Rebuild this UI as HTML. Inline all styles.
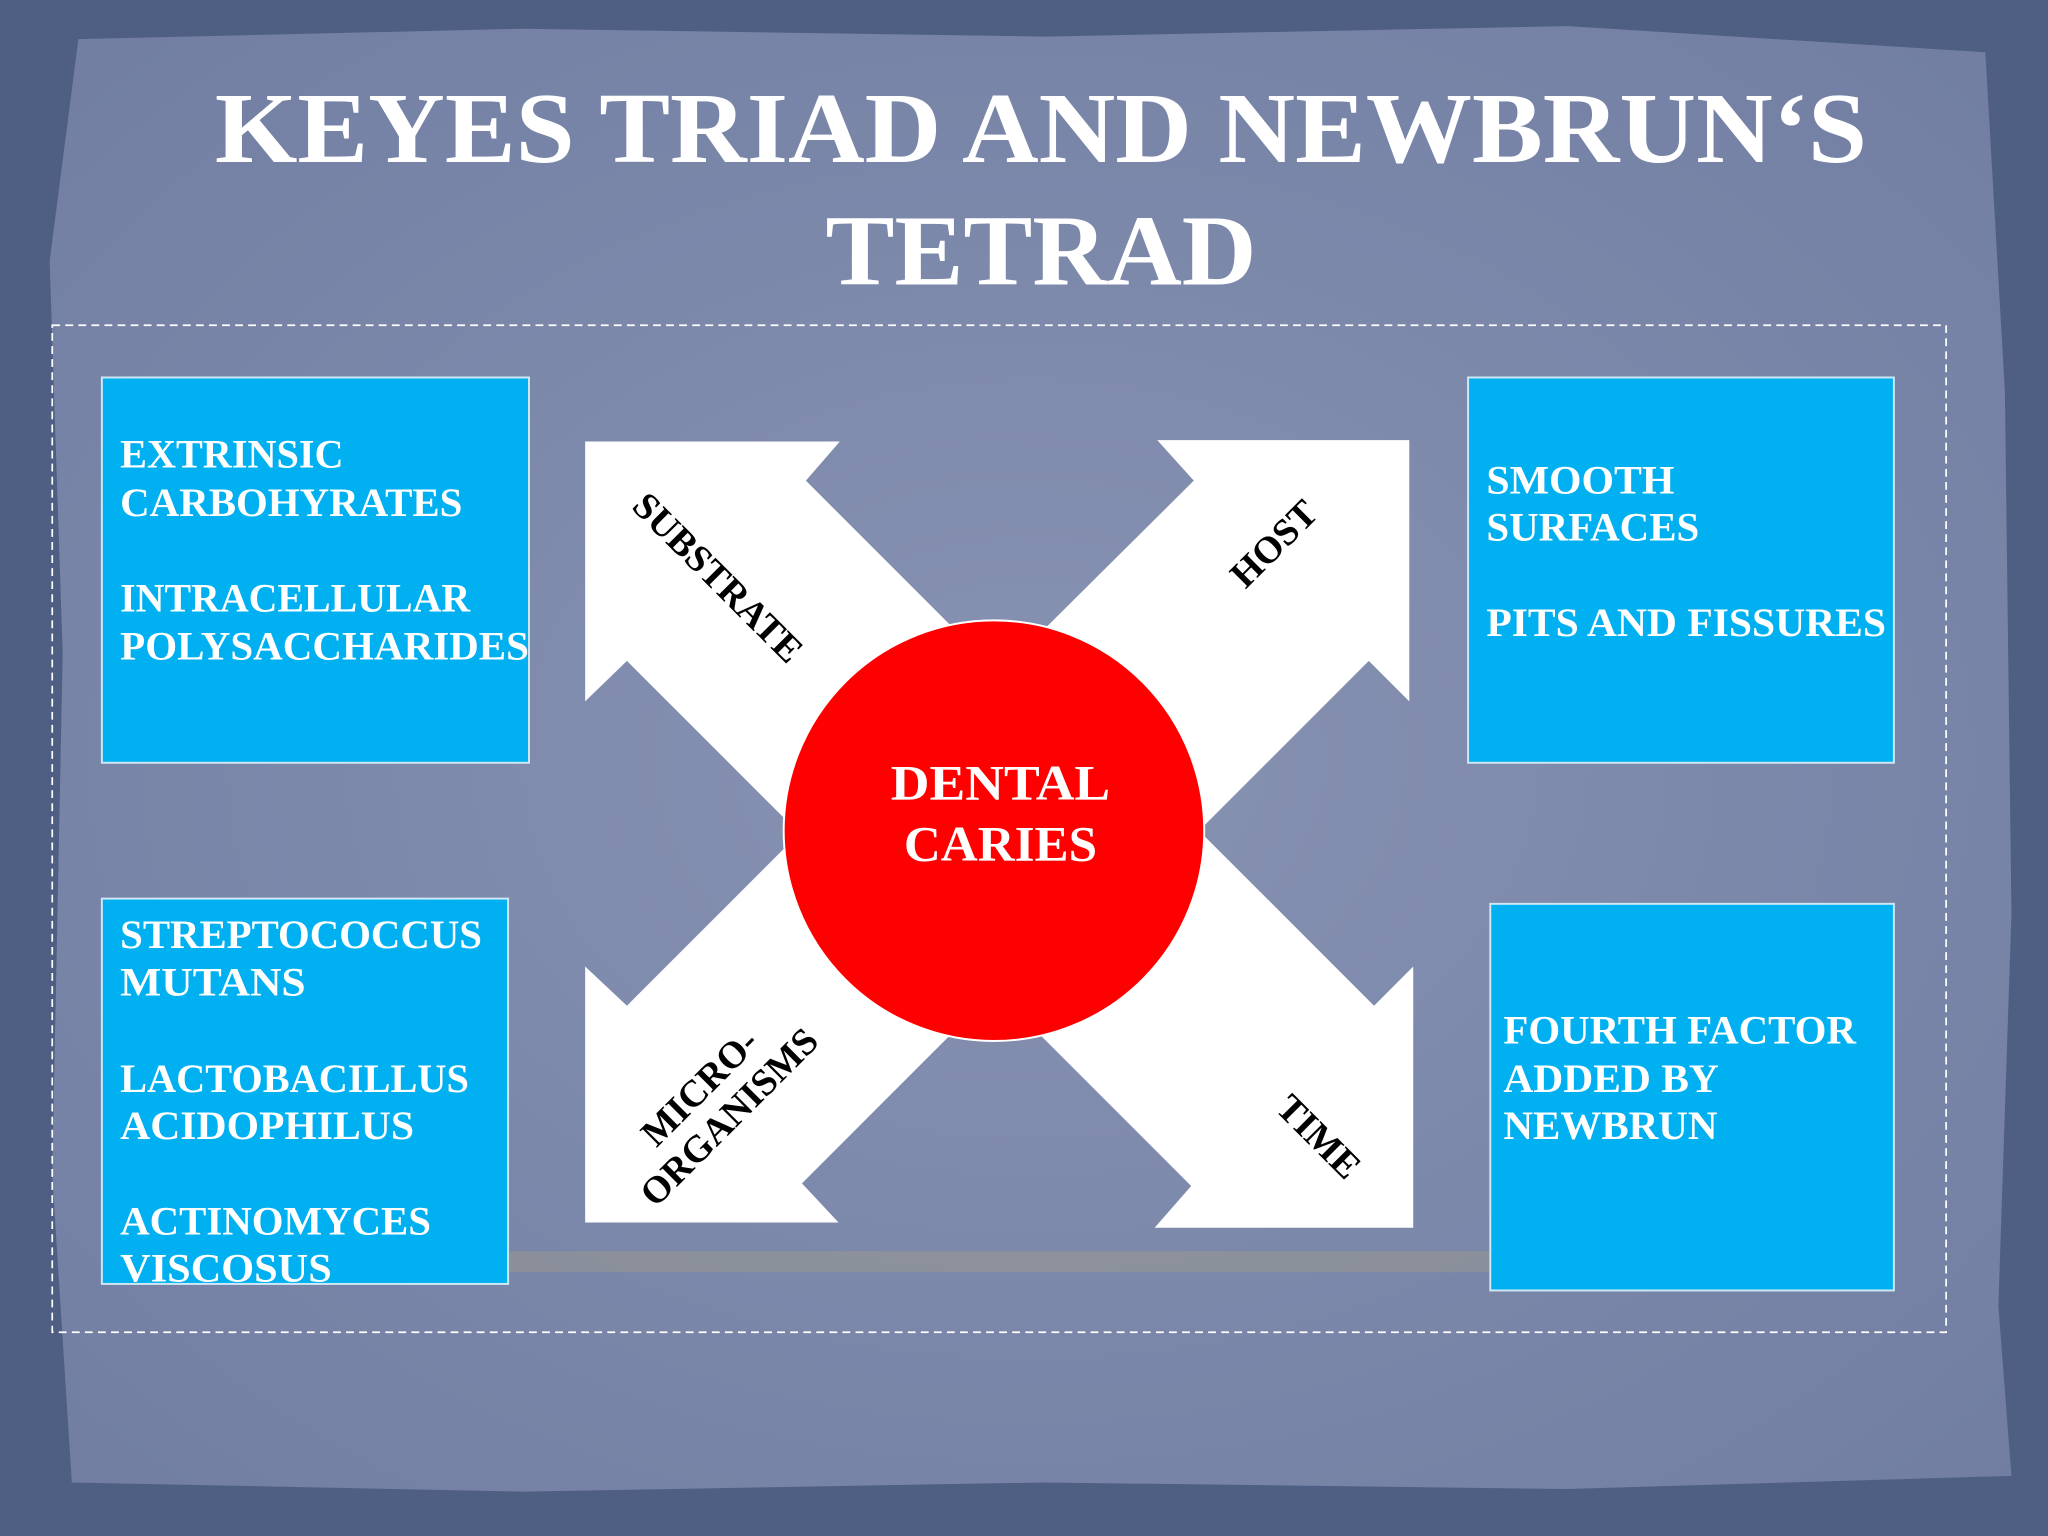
<!DOCTYPE html>
<html><head><meta charset="utf-8"><style>
html,body{margin:0;padding:0;background:#4d5d80;}
svg{display:block}
</style></head><body>
<svg width="2048" height="1536" viewBox="0 0 1568 1176" xmlns="http://www.w3.org/2000/svg">
<defs>
<radialGradient id="pg" cx="0.5" cy="0.5" r="0.7">
<stop offset="0" stop-color="#8893b3"/><stop offset="1" stop-color="#717ea2"/>
</radialGradient>
</defs>
<rect width="1568" height="1176" fill="#4f5f83"/>
<path d="M60,30 L400,22 L800,28 L1200,20 L1520,40 L1535,300 L1540,700 L1530,1000 L1540,1130 L1200,1140 L800,1135 L400,1142 L55,1135 L40,900 L48,500 L38,200 Z" fill="url(#pg)"/>
<rect x="380" y="958" width="760" height="16" fill="#b0a47a" opacity="0.3"/>
<g font-family="'Liberation Serif',serif" font-weight="bold" fill="#fff" text-anchor="middle">
<text x="797" y="124" font-size="77" textLength="1265" lengthAdjust="spacingAndGlyphs">KEYES TRIAD AND NEWBRUN‘S</text>
<text x="797" y="218" font-size="77" textLength="330" lengthAdjust="spacingAndGlyphs">TETRAD</text>
</g>
<rect x="40" y="249" width="1450" height="771" fill="none" stroke="#fff" stroke-width="1.3" stroke-dasharray="6,4"/>
<polygon fill="#fff" points="448,338 643,338 617,368 765,516 914,368 886,337 1079,337 1079,537 1048,506 918,636 1052,770 1082,740 1082,940 884,940 912,908 762,758 614,906 642,936 448,936 448,740 480,770 612,638 480,506 448,537"/>
<circle cx="761" cy="636" r="161" fill="#ff0000" stroke="#fff" stroke-width="1.5"/>
<g font-family="'Liberation Serif',serif" font-weight="bold" fill="#fff" font-size="38" text-anchor="middle">
<text x="766" y="612" textLength="168" lengthAdjust="spacingAndGlyphs">DENTAL</text>
<text x="766" y="659" textLength="148" lengthAdjust="spacingAndGlyphs">CARIES</text>
</g>
<g fill="#00b0f0" stroke="#cfe8f5" stroke-width="1.5">
<rect x="78" y="289" width="327" height="295"/>
<rect x="1124" y="289" width="326" height="295"/>
<rect x="78" y="688" width="311" height="295"/>
<rect x="1141" y="692" width="309" height="296"/>
</g>
<g font-family="'Liberation Serif',serif" font-weight="bold" fill="#fff" font-size="31">
<text x="92" y="358" textLength="171" lengthAdjust="spacingAndGlyphs">EXTRINSIC</text>
<text x="92" y="395" textLength="262" lengthAdjust="spacingAndGlyphs">CARBOHYRATES</text>
<text x="92" y="468" textLength="268" lengthAdjust="spacingAndGlyphs">INTRACELLULAR</text>
<text x="92" y="505" textLength="313" lengthAdjust="spacingAndGlyphs">POLYSACCHARIDES</text>
<text x="1138" y="378" textLength="144" lengthAdjust="spacingAndGlyphs">SMOOTH</text>
<text x="1138" y="414" textLength="163" lengthAdjust="spacingAndGlyphs">SURFACES</text>
<text x="1138" y="487" textLength="306" lengthAdjust="spacingAndGlyphs">PITS AND FISSURES</text>
<text x="92" y="726" textLength="277" lengthAdjust="spacingAndGlyphs">STREPTOCOCCUS</text>
<text x="92" y="762" textLength="142" lengthAdjust="spacingAndGlyphs">MUTANS</text>
<text x="92" y="836" textLength="267" lengthAdjust="spacingAndGlyphs">LACTOBACILLUS</text>
<text x="92" y="872" textLength="225" lengthAdjust="spacingAndGlyphs">ACIDOPHILUS</text>
<text x="92" y="945" textLength="238" lengthAdjust="spacingAndGlyphs">ACTINOMYCES</text>
<text x="92" y="981" textLength="162" lengthAdjust="spacingAndGlyphs">VISCOSUS</text>
<text x="1151" y="799" textLength="270" lengthAdjust="spacingAndGlyphs">FOURTH FACTOR</text>
<text x="1151" y="836" textLength="165" lengthAdjust="spacingAndGlyphs">ADDED BY</text>
<text x="1151" y="872" textLength="164" lengthAdjust="spacingAndGlyphs">NEWBRUN</text>
</g>
<g font-family="'Liberation Serif',serif" font-weight="bold" fill="#000" font-size="29" text-anchor="middle">
<text transform="translate(550,442) rotate(45)" y="10">SUBSTRATE</text>
<text transform="translate(975,416) rotate(-45)" y="10">HOST</text>
<text transform="translate(548,845) rotate(-45)" y="-8">MICRO-</text>
<text transform="translate(548,845) rotate(-45)" y="24">ORGANISMS</text>
<text transform="translate(1010,870) rotate(45)" y="10">TIME</text>
</g>
</svg>
</body></html>
